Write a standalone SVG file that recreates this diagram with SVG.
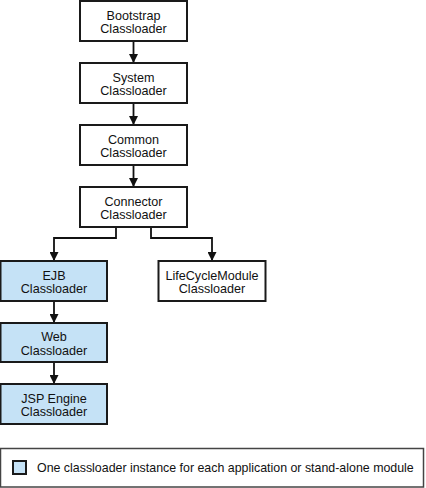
<svg xmlns="http://www.w3.org/2000/svg" width="426" height="488" viewBox="0 0 426 488">
<style>
.box{fill:#ffffff;stroke:#1a1a1a;stroke-width:2}
.app{fill:#c5e2f6;stroke:#1a1a1a;stroke-width:2}
.t{font-family:"Liberation Sans",Arial,sans-serif;font-size:12.6px;fill:#111;text-anchor:middle}
.lt{font-family:"Liberation Sans",Arial,sans-serif;font-size:12.4px;fill:#111}
.c{fill:none;stroke:#111;stroke-width:1.8}
</style>
<defs>
<marker id="ah" markerWidth="9" markerHeight="9" refX="8" refY="4.5" orient="auto" markerUnits="userSpaceOnUse">
<path d="M0,0 L9,4.5 L0,9 Z" fill="#111"/>
</marker>
</defs>
<rect width="426" height="488" fill="#fff"/>
<g id="connectors">
<line class="c" x1="133.5" y1="41" x2="133.5" y2="62" marker-end="url(#ah)"/>
<line class="c" x1="133.5" y1="103" x2="133.5" y2="124" marker-end="url(#ah)"/>
<line class="c" x1="133.5" y1="165" x2="133.5" y2="186" marker-end="url(#ah)"/>
<polyline class="c" points="116,227 116,238 54,238 54,260" marker-end="url(#ah)"/>
<polyline class="c" points="151,227 151,238 212,238 212,260" marker-end="url(#ah)"/>
<line class="c" x1="54" y1="301" x2="54" y2="322" marker-end="url(#ah)"/>
<line class="c" x1="54" y1="362" x2="54" y2="383" marker-end="url(#ah)"/>
</g>
<g id="bootstrap">
<rect class="box" x="80" y="1" width="107" height="40"/>
<text class="t" x="133.5" y="19.5">Bootstrap</text>
<text class="t" x="133.5" y="33">Classloader</text>
</g>
<g id="system">
<rect class="box" x="80" y="63" width="107" height="40"/>
<text class="t" x="133.5" y="81.5">System</text>
<text class="t" x="133.5" y="95">Classloader</text>
</g>
<g id="common">
<rect class="box" x="80" y="125" width="107" height="40"/>
<text class="t" x="133.5" y="143.5">Common</text>
<text class="t" x="133.5" y="157">Classloader</text>
</g>
<g id="connector">
<rect class="box" x="80" y="187" width="107" height="40"/>
<text class="t" x="133.5" y="205.5">Connector</text>
<text class="t" x="133.5" y="219">Classloader</text>
</g>
<g id="ejb">
<rect class="app" x="0.5" y="261" width="106.5" height="40"/>
<text class="t" x="54" y="279.5">EJB</text>
<text class="t" x="54" y="293">Classloader</text>
</g>
<g id="lifecycle">
<rect class="box" x="158.5" y="261" width="107" height="40"/>
<text class="t" x="212" y="279.5">LifeCycleModule</text>
<text class="t" x="212" y="293">Classloader</text>
</g>
<g id="web">
<rect class="app" x="0.5" y="323" width="106.5" height="39"/>
<text class="t" x="54" y="341">Web</text>
<text class="t" x="54" y="354.5">Classloader</text>
</g>
<g id="jsp">
<rect class="app" x="0.5" y="384" width="106.5" height="40"/>
<text class="t" x="54" y="402.5">JSP Engine</text>
<text class="t" x="54" y="416">Classloader</text>
</g>
<g id="legend">
<rect x="0.5" y="448.5" width="423" height="38.5" fill="#fff" stroke="#444" stroke-width="1.5"/>
<rect class="app" x="13" y="461" width="13" height="13" stroke-width="1.5"/>
<text class="lt" x="37" y="472">One classloader instance for each application or stand-alone module</text>
</g>
</svg>
